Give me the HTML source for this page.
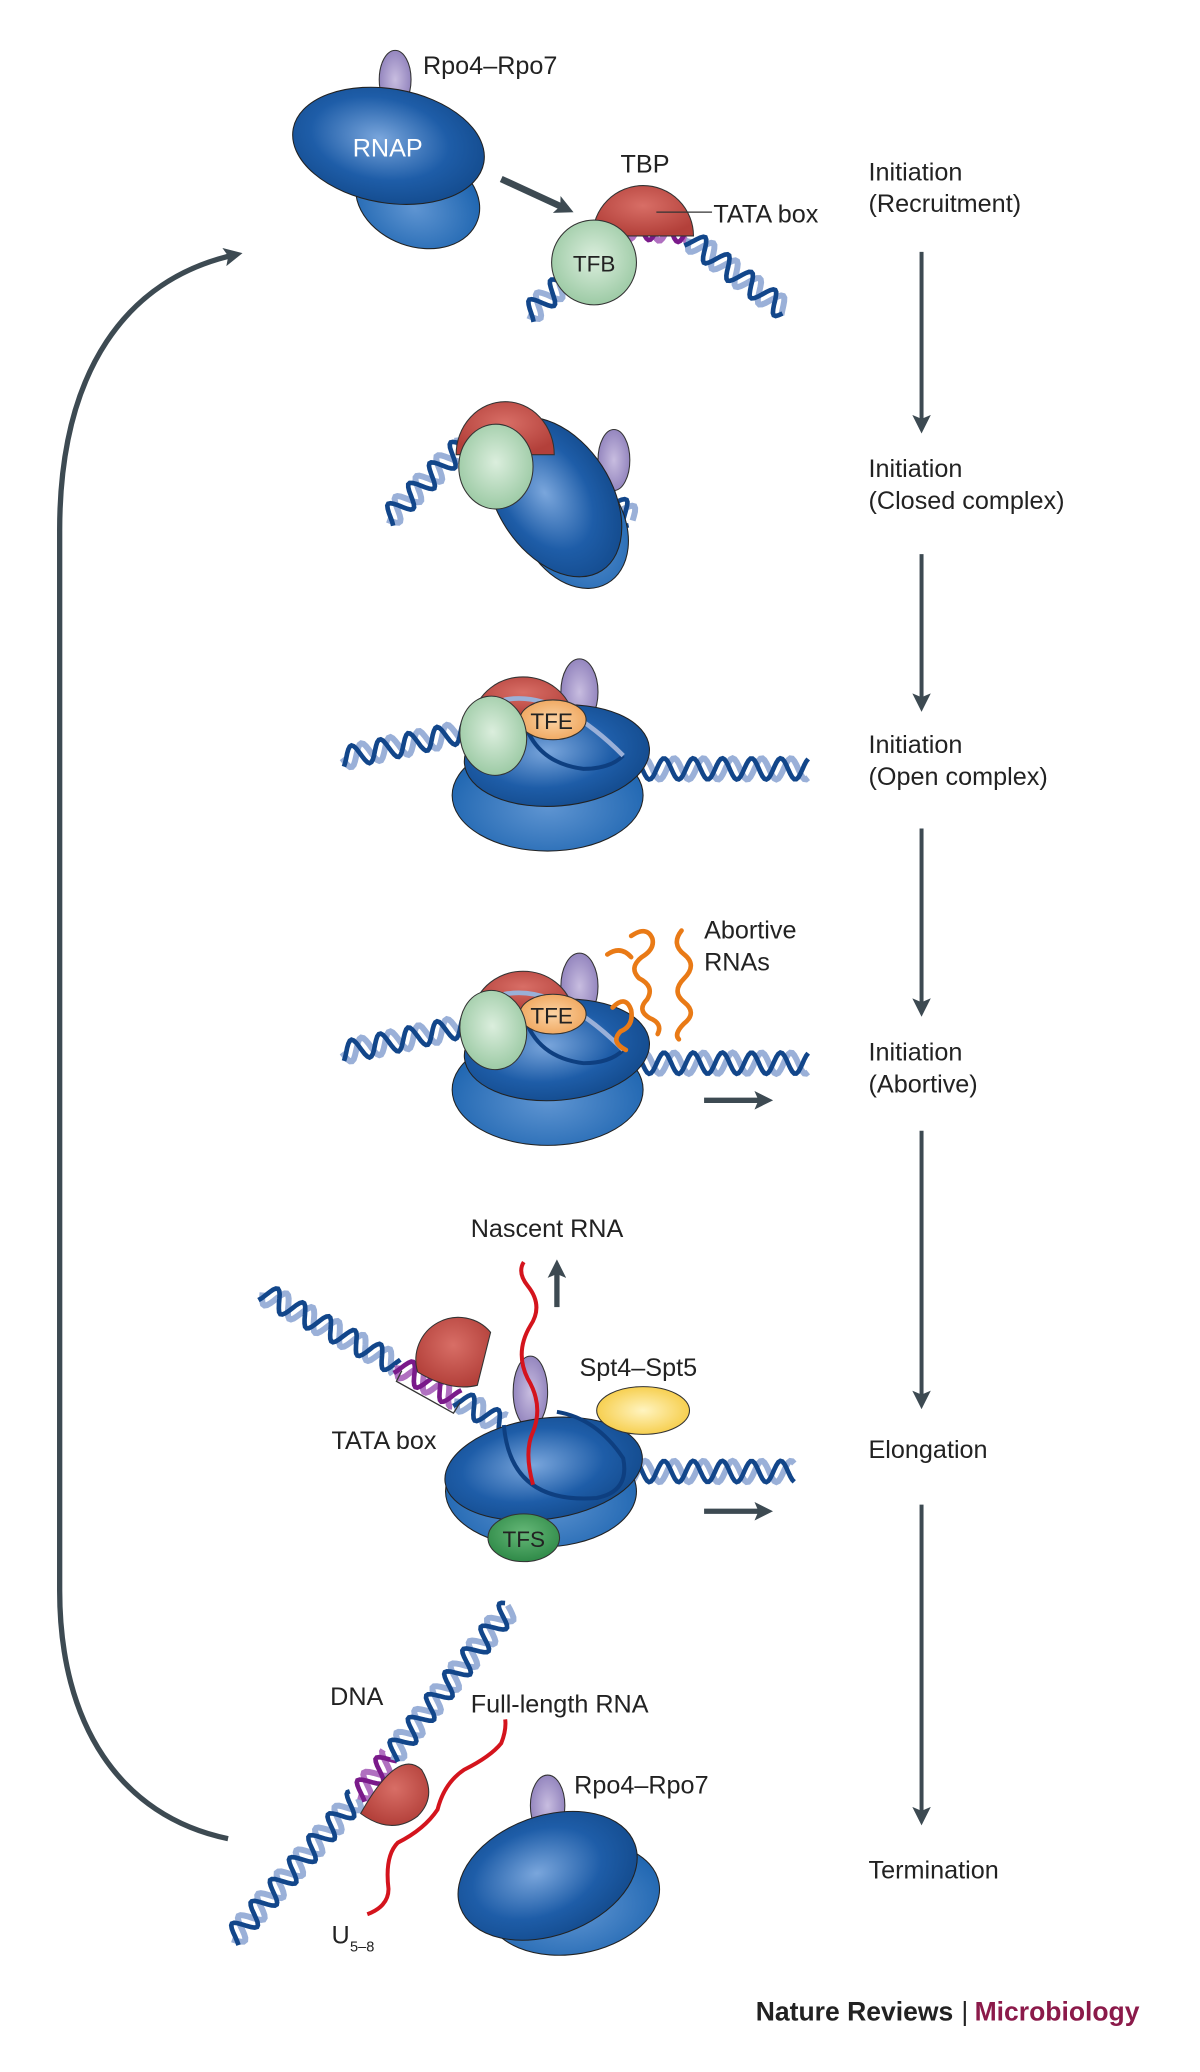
<!DOCTYPE html>
<html><head><meta charset="utf-8"><style>
html,body{margin:0;padding:0;background:#fff;width:1200px;height:2072px;overflow:hidden}
svg{display:block}
text{font-family:"Liberation Sans",sans-serif;fill:#222}
</style></head><body>
<svg id="s" width="1200" height="2072" viewBox="0 0 905 1563" preserveAspectRatio="none" xmlns="http://www.w3.org/2000/svg">
<defs>
<radialGradient id="bl" cx="0.45" cy="0.45" r="0.6"><stop offset="0" stop-color="#7aa6dc"/><stop offset="0.6" stop-color="#1e5da8"/><stop offset="1" stop-color="#134a8c"/></radialGradient>
<radialGradient id="bl2" cx="0.5" cy="0.6" r="0.6"><stop offset="0" stop-color="#5f95d2"/><stop offset="1" stop-color="#1a62ae"/></radialGradient>
<radialGradient id="rd" cx="0.5" cy="0.4" r="0.6"><stop offset="0" stop-color="#d86e66"/><stop offset="1" stop-color="#b3403a"/></radialGradient>
<radialGradient id="gr" cx="0.5" cy="0.45" r="0.6"><stop offset="0" stop-color="#dbeedd"/><stop offset="1" stop-color="#97c7a0"/></radialGradient>
<radialGradient id="pu" cx="0.5" cy="0.5" r="0.6"><stop offset="0" stop-color="#c8bde0"/><stop offset="1" stop-color="#8a7bb8"/></radialGradient>
<radialGradient id="or" cx="0.5" cy="0.5" r="0.6"><stop offset="0" stop-color="#fbd3a4"/><stop offset="1" stop-color="#eea257"/></radialGradient>
<radialGradient id="ye" cx="0.5" cy="0.5" r="0.6"><stop offset="0" stop-color="#fff4c0"/><stop offset="1" stop-color="#f5c83a"/></radialGradient>
<radialGradient id="dg" cx="0.5" cy="0.4" r="0.6"><stop offset="0" stop-color="#66b878"/><stop offset="1" stop-color="#2f8a48"/></radialGradient>
<marker id="ah2" markerWidth="14" markerHeight="14" refX="9" refY="7" orient="auto" markerUnits="userSpaceOnUse"><path d="M0,0 L14,7 L0,14 L3,7z" fill="#3d4a52"/></marker>
</defs>
<g id="helix"></g>
<g font-size="19">
<text x="655" y="136">Initiation</text><text x="655" y="160">(Recruitment)</text>
<text x="655" y="360">Initiation</text><text x="655" y="384">(Closed complex)</text>
<text x="655" y="568">Initiation</text><text x="655" y="592">(Open complex)</text>
<text x="655" y="800">Initiation</text><text x="655" y="824">(Abortive)</text>
<text x="655" y="1100">Elongation</text>
<text x="655" y="1417">Termination</text>
</g>
<g stroke="#3d4a52" stroke-width="3" fill="none">
<path d="M695,190 V322" marker-end="url(#ah2)"/>
<path d="M695,418 V532" marker-end="url(#ah2)"/>
<path d="M695,625 V762" marker-end="url(#ah2)"/>
<path d="M695,853 V1058" marker-end="url(#ah2)"/>
<path d="M695,1135 V1372" marker-end="url(#ah2)"/>
<path d="M172,1387 C90,1370 45,1300 45,1200 L45,400 C45,280 95,210 178,192" stroke-width="4" marker-end="url(#ah2)"/>
<path d="M378,135 L428,158" stroke-width="5" marker-end="url(#ah2)"/>
<path d="M531,830 H578" stroke-width="4" marker-end="url(#ah2)"/>
<path d="M531,1140 H578" stroke-width="4" marker-end="url(#ah2)"/>
<path d="M420,986 V955" stroke-width="4" marker-end="url(#ah2)"/>
</g>
<!-- Step 1 -->
<ellipse cx="298" cy="60" rx="12" ry="22" fill="url(#pu)" stroke="#333" stroke-width=".8"/>
<ellipse cx="315" cy="150" rx="48" ry="36" transform="rotate(20 315 150)" fill="url(#bl2)" stroke="#222" stroke-width=".8"/>
<ellipse cx="293" cy="110" rx="73" ry="43" transform="rotate(10 293 110)" fill="url(#bl)" stroke="#222" stroke-width=".8"/>
<text x="266" y="118" font-size="19" style="fill:#fff">RNAP</text>
<text x="319" y="56" font-size="19">Rpo4–Rpo7</text>
<path d="M447,178 A38,38 0 0 1 523,178 Z" fill="url(#rd)" stroke="#333" stroke-width=".8"/>
<text x="468" y="130" font-size="19">TBP</text>
<path d="M495,160 L537,160" stroke="#333" stroke-width="1"/>
<text x="538" y="168" font-size="19">TATA box</text>
<!-- Step 2 -->
<ellipse cx="463" cy="347" rx="12" ry="23" fill="url(#pu)" stroke="#333" stroke-width=".8"/>
<ellipse cx="432" cy="395" rx="38" ry="52" transform="rotate(-30 432 395)" fill="url(#bl2)" stroke="#222" stroke-width=".8"/>
<ellipse cx="418" cy="375" rx="43" ry="66" transform="rotate(-33 418 375)" fill="url(#bl)" stroke="#222" stroke-width=".8"/>
<path d="M344,343 A37,40 0 0 1 418,343 Z" fill="url(#rd)" stroke="#333" stroke-width=".8"/>
<!-- Step 3 -->
<g id="opn">
<ellipse cx="437" cy="522" rx="14" ry="25" fill="url(#pu)" stroke="#333" stroke-width=".8"/>
<ellipse cx="413" cy="600" rx="72" ry="42" fill="url(#bl2)" stroke="#222" stroke-width=".8"/>
<ellipse cx="420" cy="570" rx="70" ry="38" transform="rotate(-5 420 570)" fill="url(#bl)" stroke="#222" stroke-width=".8"/>
<path d="M393,535 Q400,575 440,580 Q460,580 470,570" stroke="#0e3f80" stroke-width="3" fill="none"/>
<path d="M357,540 A38,35 0 0 1 432,540 Z" fill="url(#rd)" stroke="#333" stroke-width=".8"/>
<path d="M380,528 Q420,520 470,570" stroke="#9ab0d8" stroke-width="3.5" fill="none"/>
<ellipse cx="417" cy="543" rx="25" ry="15" fill="url(#or)" stroke="#333" stroke-width=".8"/>
<text x="400" y="550" font-size="17">TFE</text>
<ellipse cx="372" cy="555" rx="25" ry="30" transform="rotate(-10 372 555)" fill="url(#gr)" stroke="#333" stroke-width=".8"/>
</g>
<use href="#opn" y="222"/>
<g fill="none" stroke="#e97a16" stroke-width="3.5" stroke-linecap="round">
<path d="M476,706 Q488,698 492,708 Q494,716 484,722 Q474,730 482,738 Q494,744 488,754 Q480,762 490,768 Q500,772 496,780"/>
<path d="M458,720 Q468,713 476,722"/>
<path d="M514,702 Q506,712 516,720 Q526,728 516,738 Q506,748 516,756 Q526,764 516,772 Q508,780 512,784"/>
<path d="M462,760 Q472,750 476,762 Q478,774 468,778 Q460,786 472,792"/>
</g>
<text x="531" y="708" font-size="19">Abortive</text><text x="531" y="732" font-size="19">RNAs</text>
<!-- Elongation -->
<ellipse cx="400" cy="1050" rx="13" ry="27" fill="url(#pu)" stroke="#333" stroke-width=".8"/>
<ellipse cx="408" cy="1125" rx="72" ry="42" fill="url(#bl2)" stroke="#222" stroke-width=".8"/>
<ellipse cx="410" cy="1108" rx="75" ry="38" transform="rotate(-8 410 1108)" fill="url(#bl)" stroke="#222" stroke-width=".8"/>
<path d="M380,1075 Q385,1135 450,1130 Q475,1125 470,1100 Q450,1070 420,1065" stroke="#0e3f80" stroke-width="3" fill="none"/>
<ellipse cx="395" cy="1160" rx="27" ry="18" fill="url(#dg)" stroke="#333" stroke-width=".8"/>
<text x="379" y="1167" font-size="17">TFS</text>
<ellipse cx="485" cy="1064" rx="35" ry="18" fill="url(#ye)" stroke="#333" stroke-width=".8"/>
<path d="M315,1035 A32,32 0 0 1 370,1005 L360,1045 Q340,1050 315,1035Z" fill="url(#rd)" stroke="#333" stroke-width=".8"/>
<path d="M402,1120 Q395,1095 402,1080 Q410,1060 398,1040 Q388,1020 400,1000 Q410,985 398,970 Q390,960 395,952" stroke="#d4141d" stroke-width="3" fill="none"/>
<path d="M303,1034 L299,1042 L342,1066 L347,1058" stroke="#333" stroke-width="1" fill="none"/>
<text x="355" y="933" font-size="19">Nascent RNA</text>
<text x="437" y="1038" font-size="19">Spt4–Spt5</text>
<text x="250" y="1093" font-size="19">TATA box</text>
<!-- Termination -->
<ellipse cx="413" cy="1362" rx="13" ry="23" fill="url(#pu)" stroke="#333" stroke-width=".8"/>
<ellipse cx="432" cy="1432" rx="66" ry="42" transform="rotate(-10 432 1432)" fill="url(#bl2)" stroke="#222" stroke-width=".8"/>
<ellipse cx="413" cy="1415" rx="70" ry="45" transform="rotate(-20 413 1415)" fill="url(#bl)" stroke="#222" stroke-width=".8"/>
<path d="M272,1368 Q300,1318 318,1335 Q330,1355 315,1370 Q295,1385 272,1368Z" fill="url(#rd)" stroke="#333" stroke-width=".8"/>
<path d="M277,1444 Q293,1438 293,1425 Q290,1400 300,1390 Q320,1380 330,1365 Q335,1345 350,1335 Q370,1325 378,1315 Q382,1305 381,1297" stroke="#d4141d" stroke-width="3" fill="none"/>
<text x="249" y="1286" font-size="19">DNA</text>
<text x="355" y="1292" font-size="19">Full-length RNA</text>
<text x="433" y="1353" font-size="19">Rpo4–Rpo7</text>
<text x="250" y="1466" font-size="19">U</text><text x="264" y="1472" font-size="11">5–8</text>
<text x="570" y="1524" font-size="20" font-weight="bold">Nature Reviews</text>
<text x="725" y="1524" font-size="20">|</text>
<text x="735" y="1524" font-size="20" font-weight="bold" style="fill:#8b1a4a">Microbiology</text>
</svg>
<script>
var g=document.getElementById('helix');
function hx(x1,y1,x2,y2,pu,layer,pcol){
 var dx=x2-x1,dy=y2-y1,L=Math.hypot(dx,dy),ux=dx/L,uy=dy/L,nx=-uy,ny=ux,a=8,per=22;
 var s=['',''];
 for(var k=0;k<2;k++){var d='';for(var t=0;t<=L;t+=1.5){var o=a*Math.sin(t/per*2*Math.PI+k*2.2);d+=(t?'L':'M')+(x1+ux*t+nx*o).toFixed(1)+','+(y1+uy*t+ny*o).toFixed(1);}s[k]=d;}
 var c=pcol?['#b070c0','#7a1a8a']:['#9ab0d8','#12468a'];
 for(var k=0;k<2;k++){var p=document.createElementNS('http://www.w3.org/2000/svg','path');p.setAttribute('d',s[k]);p.setAttribute('stroke',c[k]);p.setAttribute('stroke-width',k?3.5:4.5);p.setAttribute('fill','none');(layer||g).appendChild(p);}
}
hx(398,238,470,172);hx(470,172,520,175,0,0,1);hx(520,180,593,235);
hx(292,392,350,335);hx(350,335,410,332,0,0,1);hx(410,335,478,392);
hx(258,572,360,550);hx(470,580,610,580);
hx(258,794,360,772);hx(470,802,610,802);
hx(198,975,300,1030);hx(300,1030,345,1055,0,0,1);hx(345,1055,380,1075);hx(470,1110,600,1110);
hx(175,1463,270,1355);hx(270,1355,295,1325,0,0,1);hx(295,1325,385,1212);
var svg=document.getElementById('s');
function el(tag,at){var e=document.createElementNS('http://www.w3.org/2000/svg',tag);for(var k in at)e.setAttribute(k,at[k]);svg.appendChild(e);return e;}
el('circle',{cx:448,cy:198,r:32,fill:'url(#gr)',stroke:'#333','stroke-width':.8});
var t=el('text',{x:432,y:205,'font-size':17});t.textContent='TFB';
el('ellipse',{cx:374,cy:352,rx:28,ry:32,fill:'url(#gr)',stroke:'#333','stroke-width':.8});
</script>
</body></html>
